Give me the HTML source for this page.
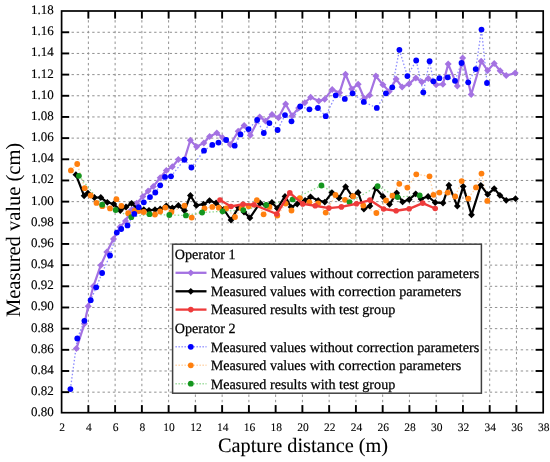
<!DOCTYPE html><html><head><meta charset="utf-8"><style>html,body{margin:0;padding:0;background:#fff;width:550px;height:462px;overflow:hidden}svg{display:block}text{font-family:"Liberation Serif",serif;fill:#000;text-rendering:geometricPrecision;stroke:#000;stroke-width:0.25px}</style></head><body>
<svg width="550" height="462" viewBox="0 0 550 462">
<rect width="550" height="462" fill="#fff"/>
<g stroke="#909090" stroke-width="1" stroke-dasharray="2.4 2.948" stroke-dashoffset="1.55"><line x1="88.36" y1="11.0" x2="88.36" y2="412.7"/><line x1="115.11" y1="11.0" x2="115.11" y2="412.7"/><line x1="141.87" y1="11.0" x2="141.87" y2="412.7"/><line x1="168.62" y1="11.0" x2="168.62" y2="412.7"/><line x1="195.38" y1="11.0" x2="195.38" y2="412.7"/><line x1="222.13" y1="11.0" x2="222.13" y2="412.7"/><line x1="248.89" y1="11.0" x2="248.89" y2="412.7"/><line x1="275.64" y1="11.0" x2="275.64" y2="412.7"/><line x1="302.40" y1="11.0" x2="302.40" y2="412.7"/><line x1="329.16" y1="11.0" x2="329.16" y2="412.7"/><line x1="355.91" y1="11.0" x2="355.91" y2="412.7"/><line x1="382.67" y1="11.0" x2="382.67" y2="412.7"/><line x1="409.42" y1="11.0" x2="409.42" y2="412.7"/><line x1="436.18" y1="11.0" x2="436.18" y2="412.7"/><line x1="462.93" y1="11.0" x2="462.93" y2="412.7"/><line x1="489.69" y1="11.0" x2="489.69" y2="412.7"/><line x1="516.44" y1="11.0" x2="516.44" y2="412.7"/></g>
<g stroke="#909090" stroke-width="1" stroke-dasharray="2.4 2.763" stroke-dashoffset="0.39"><line x1="61.6" y1="392.16" x2="543.2" y2="392.16"/><line x1="61.6" y1="370.99" x2="543.2" y2="370.99"/><line x1="61.6" y1="349.82" x2="543.2" y2="349.82"/><line x1="61.6" y1="328.65" x2="543.2" y2="328.65"/><line x1="61.6" y1="307.48" x2="543.2" y2="307.48"/><line x1="61.6" y1="286.31" x2="543.2" y2="286.31"/><line x1="61.6" y1="265.14" x2="543.2" y2="265.14"/><line x1="61.6" y1="243.97" x2="543.2" y2="243.97"/><line x1="61.6" y1="222.80" x2="543.2" y2="222.80"/><line x1="61.6" y1="201.63" x2="543.2" y2="201.63"/><line x1="61.6" y1="180.46" x2="543.2" y2="180.46"/><line x1="61.6" y1="159.29" x2="543.2" y2="159.29"/><line x1="61.6" y1="138.12" x2="543.2" y2="138.12"/><line x1="61.6" y1="116.95" x2="543.2" y2="116.95"/><line x1="61.6" y1="95.78" x2="543.2" y2="95.78"/><line x1="61.6" y1="74.61" x2="543.2" y2="74.61"/><line x1="61.6" y1="53.44" x2="543.2" y2="53.44"/><line x1="61.6" y1="32.27" x2="543.2" y2="32.27"/></g>
<polyline points="70.4,389.1 77.3,338.5 84.4,320.8 90.7,300.2 96.2,287.3 102.1,273.0 110.0,255.5 116.8,232.6 121.2,229.0 127.5,225.4 134.3,213.9 138.7,207.2 143.8,202.3 150.0,197.1 155.3,192.5 160.2,185.3 165.0,176.9 171.0,176.3 184.4,159.7 191.4,167.5 204.0,150.7 212.3,144.9 218.5,142.6 226.1,140.0 234.7,145.7 240.5,134.4 248.6,129.1 257.1,120.0 263.8,133.0 269.4,123.1 277.6,130.0 285.0,115.1 291.5,121.3 300.2,106.5 309.4,109.3 317.9,108.0 325.7,116.2 335.7,95.3 344.8,98.9 352.6,93.3 363.8,101.9 376.8,107.9 385.9,93.3 392.3,87.3 399.4,49.8 407.4,76.1 416.2,60.5 423.3,92.3 429.6,61.2 433.4,81.3 439.4,78.2 447.7,77.3 455.0,80.8 461.5,63.0 468.2,82.3 475.7,69.1 481.5,29.6 487.0,83.0" fill="none" stroke="#8c8cff" stroke-width="1.3" stroke-dasharray="1.5 2"/>
<polyline points="70.9,170.4 77.2,164.0 84.7,188.2 90.7,195.5 96.5,202.9 102.3,206.2 110.0,208.4 116.4,199.2 121.4,205.9 128.2,213.2 134.7,211.0 138.8,211.1 143.8,212.0 154.9,214.5 160.2,211.5 165.3,207.6 171.4,212.0 184.5,205.7 191.7,217.6 204.5,208.3 212.3,206.9 218.8,207.7 226.2,208.3 235.0,217.0 241.5,208.3 248.7,206.2 256.8,200.2 263.6,214.3 269.5,206.9 277.3,215.5 285.6,203.6 291.5,210.5 299.8,198.1 309.3,202.1 318.2,203.3 325.7,212.6 335.5,195.0 345.0,199.8 353.1,196.2 363.3,205.5 376.4,213.0 386.0,200.5 392.5,195.7 399.3,183.8 407.4,187.6 416.3,174.3 429.5,176.3 433.5,194.8 439.4,192.6 447.7,192.6 455.2,196.5 461.7,181.1 468.3,198.6 476.0,187.4 481.5,173.6 487.3,200.9" fill="none" stroke="#ffd0a0" stroke-width="1.3" stroke-dasharray="1.5 2"/>
<polyline points="78.9,175.8 102.2,204.7 115.7,210.0 131.3,217.2 149.5,214.2 169.3,215.0 185.9,215.4 202.1,212.5 222.6,211.3 243.3,210.1 266.2,205.0 292.7,199.4 321.4,185.5 349.5,202.1 377.6,186.2 397.6,197.1 419.7,195.4" fill="none" stroke="#90d890" stroke-width="1.3" stroke-dasharray="1.5 2"/>
<polyline points="76.4,348.6 84.4,323.8 88.2,306.3 93.4,286.3 100.8,265.2 106.8,252.1 113.5,239.0 120.0,227.0 125.5,221.1 131.4,210.0 136.7,203.2 142.9,196.4 148.1,191.0 153.3,186.4 160.2,177.7 166.3,170.4 172.3,166.8 178.4,159.5 184.4,159.6 190.3,140.3 196.6,146.8 203.8,142.9 209.6,136.4 216.8,133.1 222.6,137.7 230.4,144.8 238.2,131.2 244.1,125.5 250.3,135.2 259.7,117.0 265.5,120.9 272.0,114.4 278.5,117.7 285.6,104.0 292.1,115.7 298.6,107.9 304.8,102.8 310.6,97.2 318.8,101.1 324.7,99.2 332.2,89.4 339.6,92.7 345.5,74.2 351.7,89.0 358.2,84.2 364.3,98.5 369.5,95.3 375.9,76.1 382.9,84.7 389.2,91.5 396.1,79.1 402.1,87.0 408.9,83.9 415.8,77.9 421.8,82.1 428.3,78.6 436.1,84.8 442.9,84.2 448.2,64.1 457.3,86.1 462.6,58.0 471.2,94.4 481.2,61.2 487.6,70.5 494.2,63.6 500.1,70.8 506.2,75.6 515.2,73.0" fill="none" stroke="#a472e2" stroke-width="2.2" stroke-linejoin="round"/>
<path d="M76.4 345.1L79.9 348.6L76.4 352.1L72.9 348.6Z" fill="#a472e2"/><path d="M84.4 320.3L87.9 323.8L84.4 327.3L80.9 323.8Z" fill="#a472e2"/><path d="M88.2 302.8L91.7 306.3L88.2 309.8L84.7 306.3Z" fill="#a472e2"/><path d="M93.4 282.8L96.9 286.3L93.4 289.8L89.9 286.3Z" fill="#a472e2"/><path d="M100.8 261.7L104.3 265.2L100.8 268.7L97.3 265.2Z" fill="#a472e2"/><path d="M106.8 248.6L110.3 252.1L106.8 255.6L103.3 252.1Z" fill="#a472e2"/><path d="M113.5 235.5L117.0 239.0L113.5 242.5L110.0 239.0Z" fill="#a472e2"/><path d="M120.0 223.5L123.5 227.0L120.0 230.5L116.5 227.0Z" fill="#a472e2"/><path d="M125.5 217.6L129.0 221.1L125.5 224.6L122.0 221.1Z" fill="#a472e2"/><path d="M131.4 206.5L134.9 210.0L131.4 213.5L127.9 210.0Z" fill="#a472e2"/><path d="M136.7 199.7L140.2 203.2L136.7 206.7L133.2 203.2Z" fill="#a472e2"/><path d="M142.9 192.9L146.4 196.4L142.9 199.9L139.4 196.4Z" fill="#a472e2"/><path d="M148.1 187.5L151.6 191.0L148.1 194.5L144.6 191.0Z" fill="#a472e2"/><path d="M153.3 182.9L156.8 186.4L153.3 189.9L149.8 186.4Z" fill="#a472e2"/><path d="M160.2 174.2L163.7 177.7L160.2 181.2L156.7 177.7Z" fill="#a472e2"/><path d="M166.3 166.9L169.8 170.4L166.3 173.9L162.8 170.4Z" fill="#a472e2"/><path d="M172.3 163.3L175.8 166.8L172.3 170.3L168.8 166.8Z" fill="#a472e2"/><path d="M178.4 156.0L181.9 159.5L178.4 163.0L174.9 159.5Z" fill="#a472e2"/><path d="M184.4 156.1L187.9 159.6L184.4 163.1L180.9 159.6Z" fill="#a472e2"/><path d="M190.3 136.8L193.8 140.3L190.3 143.8L186.8 140.3Z" fill="#a472e2"/><path d="M196.6 143.3L200.1 146.8L196.6 150.3L193.1 146.8Z" fill="#a472e2"/><path d="M203.8 139.4L207.3 142.9L203.8 146.4L200.3 142.9Z" fill="#a472e2"/><path d="M209.6 132.9L213.1 136.4L209.6 139.9L206.1 136.4Z" fill="#a472e2"/><path d="M216.8 129.6L220.3 133.1L216.8 136.6L213.3 133.1Z" fill="#a472e2"/><path d="M222.6 134.2L226.1 137.7L222.6 141.2L219.1 137.7Z" fill="#a472e2"/><path d="M230.4 141.3L233.9 144.8L230.4 148.3L226.9 144.8Z" fill="#a472e2"/><path d="M238.2 127.7L241.7 131.2L238.2 134.7L234.7 131.2Z" fill="#a472e2"/><path d="M244.1 122.0L247.6 125.5L244.1 129.0L240.6 125.5Z" fill="#a472e2"/><path d="M250.3 131.7L253.8 135.2L250.3 138.7L246.8 135.2Z" fill="#a472e2"/><path d="M259.7 113.5L263.2 117.0L259.7 120.5L256.2 117.0Z" fill="#a472e2"/><path d="M265.5 117.4L269.0 120.9L265.5 124.4L262.0 120.9Z" fill="#a472e2"/><path d="M272.0 110.9L275.5 114.4L272.0 117.9L268.5 114.4Z" fill="#a472e2"/><path d="M278.5 114.2L282.0 117.7L278.5 121.2L275.0 117.7Z" fill="#a472e2"/><path d="M285.6 100.5L289.1 104.0L285.6 107.5L282.1 104.0Z" fill="#a472e2"/><path d="M292.1 112.2L295.6 115.7L292.1 119.2L288.6 115.7Z" fill="#a472e2"/><path d="M298.6 104.4L302.1 107.9L298.6 111.4L295.1 107.9Z" fill="#a472e2"/><path d="M304.8 99.3L308.3 102.8L304.8 106.3L301.3 102.8Z" fill="#a472e2"/><path d="M310.6 93.7L314.1 97.2L310.6 100.7L307.1 97.2Z" fill="#a472e2"/><path d="M318.8 97.6L322.3 101.1L318.8 104.6L315.3 101.1Z" fill="#a472e2"/><path d="M324.7 95.7L328.2 99.2L324.7 102.7L321.2 99.2Z" fill="#a472e2"/><path d="M332.2 85.9L335.7 89.4L332.2 92.9L328.7 89.4Z" fill="#a472e2"/><path d="M339.6 89.2L343.1 92.7L339.6 96.2L336.1 92.7Z" fill="#a472e2"/><path d="M345.5 70.7L349.0 74.2L345.5 77.7L342.0 74.2Z" fill="#a472e2"/><path d="M351.7 85.5L355.2 89.0L351.7 92.5L348.2 89.0Z" fill="#a472e2"/><path d="M358.2 80.7L361.7 84.2L358.2 87.7L354.7 84.2Z" fill="#a472e2"/><path d="M364.3 95.0L367.8 98.5L364.3 102.0L360.8 98.5Z" fill="#a472e2"/><path d="M369.5 91.8L373.0 95.3L369.5 98.8L366.0 95.3Z" fill="#a472e2"/><path d="M375.9 72.6L379.4 76.1L375.9 79.6L372.4 76.1Z" fill="#a472e2"/><path d="M382.9 81.2L386.4 84.7L382.9 88.2L379.4 84.7Z" fill="#a472e2"/><path d="M389.2 88.0L392.7 91.5L389.2 95.0L385.7 91.5Z" fill="#a472e2"/><path d="M396.1 75.6L399.6 79.1L396.1 82.6L392.6 79.1Z" fill="#a472e2"/><path d="M402.1 83.5L405.6 87.0L402.1 90.5L398.6 87.0Z" fill="#a472e2"/><path d="M408.9 80.4L412.4 83.9L408.9 87.4L405.4 83.9Z" fill="#a472e2"/><path d="M415.8 74.4L419.3 77.9L415.8 81.4L412.3 77.9Z" fill="#a472e2"/><path d="M421.8 78.6L425.3 82.1L421.8 85.6L418.3 82.1Z" fill="#a472e2"/><path d="M428.3 75.1L431.8 78.6L428.3 82.1L424.8 78.6Z" fill="#a472e2"/><path d="M436.1 81.3L439.6 84.8L436.1 88.3L432.6 84.8Z" fill="#a472e2"/><path d="M442.9 80.7L446.4 84.2L442.9 87.7L439.4 84.2Z" fill="#a472e2"/><path d="M448.2 60.6L451.7 64.1L448.2 67.6L444.7 64.1Z" fill="#a472e2"/><path d="M457.3 82.6L460.8 86.1L457.3 89.6L453.8 86.1Z" fill="#a472e2"/><path d="M462.6 54.5L466.1 58.0L462.6 61.5L459.1 58.0Z" fill="#a472e2"/><path d="M471.2 90.9L474.7 94.4L471.2 97.9L467.7 94.4Z" fill="#a472e2"/><path d="M481.2 57.7L484.7 61.2L481.2 64.7L477.7 61.2Z" fill="#a472e2"/><path d="M487.6 67.0L491.1 70.5L487.6 74.0L484.1 70.5Z" fill="#a472e2"/><path d="M494.2 60.1L497.7 63.6L494.2 67.1L490.7 63.6Z" fill="#a472e2"/><path d="M500.1 67.3L503.6 70.8L500.1 74.3L496.6 70.8Z" fill="#a472e2"/><path d="M506.2 72.1L509.7 75.6L506.2 79.1L502.7 75.6Z" fill="#a472e2"/><path d="M515.2 69.5L518.7 73.0L515.2 76.5L511.7 73.0Z" fill="#a472e2"/>
<polyline points="75.9,174.7 84.1,195.8 87.9,193.1 94.4,197.5 100.8,197.5 107.3,202.3 113.8,204.0 120.3,210.5 126.0,207.0 131.6,203.3 137.7,208.9 143.8,209.7 149.0,210.3 155.0,209.7 160.2,208.9 166.3,205.8 172.3,208.0 178.4,205.4 184.5,210.6 190.4,195.5 196.4,205.4 203.6,204.2 209.5,200.6 216.1,203.0 223.8,209.5 231.0,220.0 238.5,207.4 244.0,212.0 249.9,217.9 260.0,203.0 266.0,205.4 271.9,202.4 277.3,208.3 285.0,196.4 291.0,207.1 297.2,204.0 305.1,200.4 310.5,196.8 318.2,200.4 324.8,202.1 331.9,192.6 339.0,198.0 345.6,186.7 352.1,196.2 358.1,192.5 363.9,209.0 369.9,206.1 375.8,188.2 383.0,196.5 389.5,204.3 396.7,193.0 402.6,201.9 409.2,199.5 415.7,193.8 421.0,198.9 428.1,196.5 435.2,202.5 443.0,203.1 448.9,185.2 457.3,206.1 463.2,186.4 471.5,214.8 480.8,185.3 487.7,194.4 494.2,188.6 499.9,195.3 506.2,200.3 515.5,198.7" fill="none" stroke="#000" stroke-width="2.2" stroke-linejoin="round"/>
<path d="M75.9 171.3L79.3 174.7L75.9 178.1L72.5 174.7Z" fill="#000"/><path d="M84.1 192.4L87.5 195.8L84.1 199.2L80.7 195.8Z" fill="#000"/><path d="M87.9 189.7L91.3 193.1L87.9 196.5L84.5 193.1Z" fill="#000"/><path d="M94.4 194.1L97.8 197.5L94.4 200.9L91.0 197.5Z" fill="#000"/><path d="M100.8 194.1L104.2 197.5L100.8 200.9L97.4 197.5Z" fill="#000"/><path d="M107.3 198.9L110.7 202.3L107.3 205.7L103.9 202.3Z" fill="#000"/><path d="M113.8 200.6L117.2 204.0L113.8 207.4L110.4 204.0Z" fill="#000"/><path d="M120.3 207.1L123.7 210.5L120.3 213.9L116.9 210.5Z" fill="#000"/><path d="M126.0 203.6L129.4 207.0L126.0 210.4L122.6 207.0Z" fill="#000"/><path d="M131.6 199.9L135.0 203.3L131.6 206.7L128.2 203.3Z" fill="#000"/><path d="M137.7 205.5L141.1 208.9L137.7 212.3L134.3 208.9Z" fill="#000"/><path d="M143.8 206.3L147.2 209.7L143.8 213.1L140.4 209.7Z" fill="#000"/><path d="M149.0 206.9L152.4 210.3L149.0 213.7L145.6 210.3Z" fill="#000"/><path d="M155.0 206.3L158.4 209.7L155.0 213.1L151.6 209.7Z" fill="#000"/><path d="M160.2 205.5L163.6 208.9L160.2 212.3L156.8 208.9Z" fill="#000"/><path d="M166.3 202.4L169.7 205.8L166.3 209.2L162.9 205.8Z" fill="#000"/><path d="M172.3 204.6L175.7 208.0L172.3 211.4L168.9 208.0Z" fill="#000"/><path d="M178.4 202.0L181.8 205.4L178.4 208.8L175.0 205.4Z" fill="#000"/><path d="M184.5 207.2L187.9 210.6L184.5 214.0L181.1 210.6Z" fill="#000"/><path d="M190.4 192.1L193.8 195.5L190.4 198.9L187.0 195.5Z" fill="#000"/><path d="M196.4 202.0L199.8 205.4L196.4 208.8L193.0 205.4Z" fill="#000"/><path d="M203.6 200.8L207.0 204.2L203.6 207.6L200.2 204.2Z" fill="#000"/><path d="M209.5 197.2L212.9 200.6L209.5 204.0L206.1 200.6Z" fill="#000"/><path d="M216.1 199.6L219.5 203.0L216.1 206.4L212.7 203.0Z" fill="#000"/><path d="M223.8 206.1L227.2 209.5L223.8 212.9L220.4 209.5Z" fill="#000"/><path d="M231.0 216.6L234.4 220.0L231.0 223.4L227.6 220.0Z" fill="#000"/><path d="M238.5 204.0L241.9 207.4L238.5 210.8L235.1 207.4Z" fill="#000"/><path d="M244.0 208.6L247.4 212.0L244.0 215.4L240.6 212.0Z" fill="#000"/><path d="M249.9 214.5L253.3 217.9L249.9 221.3L246.5 217.9Z" fill="#000"/><path d="M260.0 199.6L263.4 203.0L260.0 206.4L256.6 203.0Z" fill="#000"/><path d="M266.0 202.0L269.4 205.4L266.0 208.8L262.6 205.4Z" fill="#000"/><path d="M271.9 199.0L275.3 202.4L271.9 205.8L268.5 202.4Z" fill="#000"/><path d="M277.3 204.9L280.7 208.3L277.3 211.7L273.9 208.3Z" fill="#000"/><path d="M285.0 193.0L288.4 196.4L285.0 199.8L281.6 196.4Z" fill="#000"/><path d="M291.0 203.7L294.4 207.1L291.0 210.5L287.6 207.1Z" fill="#000"/><path d="M297.2 200.6L300.6 204.0L297.2 207.4L293.8 204.0Z" fill="#000"/><path d="M305.1 197.0L308.5 200.4L305.1 203.8L301.7 200.4Z" fill="#000"/><path d="M310.5 193.4L313.9 196.8L310.5 200.2L307.1 196.8Z" fill="#000"/><path d="M318.2 197.0L321.6 200.4L318.2 203.8L314.8 200.4Z" fill="#000"/><path d="M324.8 198.7L328.2 202.1L324.8 205.5L321.4 202.1Z" fill="#000"/><path d="M331.9 189.2L335.3 192.6L331.9 196.0L328.5 192.6Z" fill="#000"/><path d="M339.0 194.6L342.4 198.0L339.0 201.4L335.6 198.0Z" fill="#000"/><path d="M345.6 183.3L349.0 186.7L345.6 190.1L342.2 186.7Z" fill="#000"/><path d="M352.1 192.8L355.5 196.2L352.1 199.6L348.7 196.2Z" fill="#000"/><path d="M358.1 189.1L361.5 192.5L358.1 195.9L354.7 192.5Z" fill="#000"/><path d="M363.9 205.6L367.3 209.0L363.9 212.4L360.5 209.0Z" fill="#000"/><path d="M369.9 202.7L373.3 206.1L369.9 209.5L366.5 206.1Z" fill="#000"/><path d="M375.8 184.8L379.2 188.2L375.8 191.6L372.4 188.2Z" fill="#000"/><path d="M383.0 193.1L386.4 196.5L383.0 199.9L379.6 196.5Z" fill="#000"/><path d="M389.5 200.9L392.9 204.3L389.5 207.7L386.1 204.3Z" fill="#000"/><path d="M396.7 189.6L400.1 193.0L396.7 196.4L393.3 193.0Z" fill="#000"/><path d="M402.6 198.5L406.0 201.9L402.6 205.3L399.2 201.9Z" fill="#000"/><path d="M409.2 196.1L412.6 199.5L409.2 202.9L405.8 199.5Z" fill="#000"/><path d="M415.7 190.4L419.1 193.8L415.7 197.2L412.3 193.8Z" fill="#000"/><path d="M421.0 195.5L424.4 198.9L421.0 202.3L417.6 198.9Z" fill="#000"/><path d="M428.1 193.1L431.5 196.5L428.1 199.9L424.7 196.5Z" fill="#000"/><path d="M435.2 199.1L438.6 202.5L435.2 205.9L431.8 202.5Z" fill="#000"/><path d="M443.0 199.7L446.4 203.1L443.0 206.5L439.6 203.1Z" fill="#000"/><path d="M448.9 181.8L452.3 185.2L448.9 188.6L445.5 185.2Z" fill="#000"/><path d="M457.3 202.7L460.7 206.1L457.3 209.5L453.9 206.1Z" fill="#000"/><path d="M463.2 183.0L466.6 186.4L463.2 189.8L459.8 186.4Z" fill="#000"/><path d="M471.5 211.4L474.9 214.8L471.5 218.2L468.1 214.8Z" fill="#000"/><path d="M480.8 181.9L484.2 185.3L480.8 188.7L477.4 185.3Z" fill="#000"/><path d="M487.7 191.0L491.1 194.4L487.7 197.8L484.3 194.4Z" fill="#000"/><path d="M494.2 185.2L497.6 188.6L494.2 192.0L490.8 188.6Z" fill="#000"/><path d="M499.9 191.9L503.3 195.3L499.9 198.7L496.5 195.3Z" fill="#000"/><path d="M506.2 196.9L509.6 200.3L506.2 203.7L502.8 200.3Z" fill="#000"/><path d="M515.5 195.3L518.9 198.7L515.5 202.1L512.1 198.7Z" fill="#000"/>
<circle cx="70.9" cy="170.4" r="2.9" fill="#ff7f0e"/><circle cx="77.2" cy="164.0" r="2.9" fill="#ff7f0e"/><circle cx="84.7" cy="188.2" r="2.9" fill="#ff7f0e"/><circle cx="90.7" cy="195.5" r="2.9" fill="#ff7f0e"/><circle cx="96.5" cy="202.9" r="2.9" fill="#ff7f0e"/><circle cx="102.3" cy="206.2" r="2.9" fill="#ff7f0e"/><circle cx="110.0" cy="208.4" r="2.9" fill="#ff7f0e"/><circle cx="116.4" cy="199.2" r="2.9" fill="#ff7f0e"/><circle cx="121.4" cy="205.9" r="2.9" fill="#ff7f0e"/><circle cx="128.2" cy="213.2" r="2.9" fill="#ff7f0e"/><circle cx="134.7" cy="211.0" r="2.9" fill="#ff7f0e"/><circle cx="138.8" cy="211.1" r="2.9" fill="#ff7f0e"/><circle cx="143.8" cy="212.0" r="2.9" fill="#ff7f0e"/><circle cx="154.9" cy="214.5" r="2.9" fill="#ff7f0e"/><circle cx="160.2" cy="211.5" r="2.9" fill="#ff7f0e"/><circle cx="165.3" cy="207.6" r="2.9" fill="#ff7f0e"/><circle cx="171.4" cy="212.0" r="2.9" fill="#ff7f0e"/><circle cx="184.5" cy="205.7" r="2.9" fill="#ff7f0e"/><circle cx="191.7" cy="217.6" r="2.9" fill="#ff7f0e"/><circle cx="204.5" cy="208.3" r="2.9" fill="#ff7f0e"/><circle cx="212.3" cy="206.9" r="2.9" fill="#ff7f0e"/><circle cx="218.8" cy="207.7" r="2.9" fill="#ff7f0e"/><circle cx="226.2" cy="208.3" r="2.9" fill="#ff7f0e"/><circle cx="235.0" cy="217.0" r="2.9" fill="#ff7f0e"/><circle cx="241.5" cy="208.3" r="2.9" fill="#ff7f0e"/><circle cx="248.7" cy="206.2" r="2.9" fill="#ff7f0e"/><circle cx="256.8" cy="200.2" r="2.9" fill="#ff7f0e"/><circle cx="263.6" cy="214.3" r="2.9" fill="#ff7f0e"/><circle cx="269.5" cy="206.9" r="2.9" fill="#ff7f0e"/><circle cx="277.3" cy="215.5" r="2.9" fill="#ff7f0e"/><circle cx="285.6" cy="203.6" r="2.9" fill="#ff7f0e"/><circle cx="291.5" cy="210.5" r="2.9" fill="#ff7f0e"/><circle cx="299.8" cy="198.1" r="2.9" fill="#ff7f0e"/><circle cx="309.3" cy="202.1" r="2.9" fill="#ff7f0e"/><circle cx="318.2" cy="203.3" r="2.9" fill="#ff7f0e"/><circle cx="325.7" cy="212.6" r="2.9" fill="#ff7f0e"/><circle cx="335.5" cy="195.0" r="2.9" fill="#ff7f0e"/><circle cx="345.0" cy="199.8" r="2.9" fill="#ff7f0e"/><circle cx="353.1" cy="196.2" r="2.9" fill="#ff7f0e"/><circle cx="363.3" cy="205.5" r="2.9" fill="#ff7f0e"/><circle cx="376.4" cy="213.0" r="2.9" fill="#ff7f0e"/><circle cx="386.0" cy="200.5" r="2.9" fill="#ff7f0e"/><circle cx="392.5" cy="195.7" r="2.9" fill="#ff7f0e"/><circle cx="399.3" cy="183.8" r="2.9" fill="#ff7f0e"/><circle cx="407.4" cy="187.6" r="2.9" fill="#ff7f0e"/><circle cx="416.3" cy="174.3" r="2.9" fill="#ff7f0e"/><circle cx="429.5" cy="176.3" r="2.9" fill="#ff7f0e"/><circle cx="433.5" cy="194.8" r="2.9" fill="#ff7f0e"/><circle cx="439.4" cy="192.6" r="2.9" fill="#ff7f0e"/><circle cx="447.7" cy="192.6" r="2.9" fill="#ff7f0e"/><circle cx="455.2" cy="196.5" r="2.9" fill="#ff7f0e"/><circle cx="461.7" cy="181.1" r="2.9" fill="#ff7f0e"/><circle cx="468.3" cy="198.6" r="2.9" fill="#ff7f0e"/><circle cx="476.0" cy="187.4" r="2.9" fill="#ff7f0e"/><circle cx="481.5" cy="173.6" r="2.9" fill="#ff7f0e"/><circle cx="487.3" cy="200.9" r="2.9" fill="#ff7f0e"/>
<circle cx="78.9" cy="175.8" r="2.9" fill="#14961e"/><circle cx="102.2" cy="204.7" r="2.9" fill="#14961e"/><circle cx="115.7" cy="210.0" r="2.9" fill="#14961e"/><circle cx="131.3" cy="217.2" r="2.9" fill="#14961e"/><circle cx="149.5" cy="214.2" r="2.9" fill="#14961e"/><circle cx="169.3" cy="215.0" r="2.9" fill="#14961e"/><circle cx="185.9" cy="215.4" r="2.9" fill="#14961e"/><circle cx="202.1" cy="212.5" r="2.9" fill="#14961e"/><circle cx="222.6" cy="211.3" r="2.9" fill="#14961e"/><circle cx="243.3" cy="210.1" r="2.9" fill="#14961e"/><circle cx="266.2" cy="205.0" r="2.9" fill="#14961e"/><circle cx="292.7" cy="199.4" r="2.9" fill="#14961e"/><circle cx="321.4" cy="185.5" r="2.9" fill="#14961e"/><circle cx="349.5" cy="202.1" r="2.9" fill="#14961e"/><circle cx="377.6" cy="186.2" r="2.9" fill="#14961e"/><circle cx="397.6" cy="197.1" r="2.9" fill="#14961e"/><circle cx="419.7" cy="195.4" r="2.9" fill="#14961e"/>
<polyline points="220.0,200.0 231.0,206.5 243.1,204.2 254.0,204.8 276.7,214.0 289.8,192.9 302.7,203.9 315.2,205.7 328.9,208.1 341.4,206.9 356.5,203.8 369.9,200.1 383.6,209.0 396.1,210.8 409.2,208.8 422.7,203.1 435.2,208.5" fill="none" stroke="#ee3b3b" stroke-width="2.4" stroke-linejoin="round"/>
<circle cx="220.0" cy="200.0" r="2.8" fill="#ee3b3b"/><circle cx="231.0" cy="206.5" r="2.8" fill="#ee3b3b"/><circle cx="243.1" cy="204.2" r="2.8" fill="#ee3b3b"/><circle cx="254.0" cy="204.8" r="2.8" fill="#ee3b3b"/><circle cx="276.7" cy="214.0" r="2.8" fill="#ee3b3b"/><circle cx="289.8" cy="192.9" r="2.8" fill="#ee3b3b"/><circle cx="302.7" cy="203.9" r="2.8" fill="#ee3b3b"/><circle cx="315.2" cy="205.7" r="2.8" fill="#ee3b3b"/><circle cx="328.9" cy="208.1" r="2.8" fill="#ee3b3b"/><circle cx="341.4" cy="206.9" r="2.8" fill="#ee3b3b"/><circle cx="356.5" cy="203.8" r="2.8" fill="#ee3b3b"/><circle cx="369.9" cy="200.1" r="2.8" fill="#ee3b3b"/><circle cx="383.6" cy="209.0" r="2.8" fill="#ee3b3b"/><circle cx="396.1" cy="210.8" r="2.8" fill="#ee3b3b"/><circle cx="409.2" cy="208.8" r="2.8" fill="#ee3b3b"/><circle cx="422.7" cy="203.1" r="2.8" fill="#ee3b3b"/><circle cx="435.2" cy="208.5" r="2.8" fill="#ee3b3b"/>
<circle cx="70.4" cy="389.1" r="2.9" fill="#0000ff"/><circle cx="77.3" cy="338.5" r="2.9" fill="#0000ff"/><circle cx="84.4" cy="320.8" r="2.9" fill="#0000ff"/><circle cx="90.7" cy="300.2" r="2.9" fill="#0000ff"/><circle cx="96.2" cy="287.3" r="2.9" fill="#0000ff"/><circle cx="102.1" cy="273.0" r="2.9" fill="#0000ff"/><circle cx="110.0" cy="255.5" r="2.9" fill="#0000ff"/><circle cx="116.8" cy="232.6" r="2.9" fill="#0000ff"/><circle cx="121.2" cy="229.0" r="2.9" fill="#0000ff"/><circle cx="127.5" cy="225.4" r="2.9" fill="#0000ff"/><circle cx="134.3" cy="213.9" r="2.9" fill="#0000ff"/><circle cx="138.7" cy="207.2" r="2.9" fill="#0000ff"/><circle cx="143.8" cy="202.3" r="2.9" fill="#0000ff"/><circle cx="150.0" cy="197.1" r="2.9" fill="#0000ff"/><circle cx="155.3" cy="192.5" r="2.9" fill="#0000ff"/><circle cx="160.2" cy="185.3" r="2.9" fill="#0000ff"/><circle cx="165.0" cy="176.9" r="2.9" fill="#0000ff"/><circle cx="171.0" cy="176.3" r="2.9" fill="#0000ff"/><circle cx="184.4" cy="159.7" r="2.9" fill="#0000ff"/><circle cx="191.4" cy="167.5" r="2.9" fill="#0000ff"/><circle cx="204.0" cy="150.7" r="2.9" fill="#0000ff"/><circle cx="212.3" cy="144.9" r="2.9" fill="#0000ff"/><circle cx="218.5" cy="142.6" r="2.9" fill="#0000ff"/><circle cx="226.1" cy="140.0" r="2.9" fill="#0000ff"/><circle cx="234.7" cy="145.7" r="2.9" fill="#0000ff"/><circle cx="240.5" cy="134.4" r="2.9" fill="#0000ff"/><circle cx="248.6" cy="129.1" r="2.9" fill="#0000ff"/><circle cx="257.1" cy="120.0" r="2.9" fill="#0000ff"/><circle cx="263.8" cy="133.0" r="2.9" fill="#0000ff"/><circle cx="269.4" cy="123.1" r="2.9" fill="#0000ff"/><circle cx="277.6" cy="130.0" r="2.9" fill="#0000ff"/><circle cx="285.0" cy="115.1" r="2.9" fill="#0000ff"/><circle cx="291.5" cy="121.3" r="2.9" fill="#0000ff"/><circle cx="300.2" cy="106.5" r="2.9" fill="#0000ff"/><circle cx="309.4" cy="109.3" r="2.9" fill="#0000ff"/><circle cx="317.9" cy="108.0" r="2.9" fill="#0000ff"/><circle cx="325.7" cy="116.2" r="2.9" fill="#0000ff"/><circle cx="335.7" cy="95.3" r="2.9" fill="#0000ff"/><circle cx="344.8" cy="98.9" r="2.9" fill="#0000ff"/><circle cx="352.6" cy="93.3" r="2.9" fill="#0000ff"/><circle cx="363.8" cy="101.9" r="2.9" fill="#0000ff"/><circle cx="376.8" cy="107.9" r="2.9" fill="#0000ff"/><circle cx="385.9" cy="93.3" r="2.9" fill="#0000ff"/><circle cx="392.3" cy="87.3" r="2.9" fill="#0000ff"/><circle cx="399.4" cy="49.8" r="2.9" fill="#0000ff"/><circle cx="407.4" cy="76.1" r="2.9" fill="#0000ff"/><circle cx="416.2" cy="60.5" r="2.9" fill="#0000ff"/><circle cx="423.3" cy="92.3" r="2.9" fill="#0000ff"/><circle cx="429.6" cy="61.2" r="2.9" fill="#0000ff"/><circle cx="433.4" cy="81.3" r="2.9" fill="#0000ff"/><circle cx="439.4" cy="78.2" r="2.9" fill="#0000ff"/><circle cx="447.7" cy="77.3" r="2.9" fill="#0000ff"/><circle cx="455.0" cy="80.8" r="2.9" fill="#0000ff"/><circle cx="461.5" cy="63.0" r="2.9" fill="#0000ff"/><circle cx="468.2" cy="82.3" r="2.9" fill="#0000ff"/><circle cx="475.7" cy="69.1" r="2.9" fill="#0000ff"/><circle cx="481.5" cy="29.6" r="2.9" fill="#0000ff"/><circle cx="487.0" cy="83.0" r="2.9" fill="#0000ff"/>
<g stroke="#000" stroke-width="1.9"><line x1="88.36" y1="412.7" x2="88.36" y2="405.09999999999997"/><line x1="88.36" y1="11.0" x2="88.36" y2="18.6"/><line x1="115.11" y1="412.7" x2="115.11" y2="405.09999999999997"/><line x1="115.11" y1="11.0" x2="115.11" y2="18.6"/><line x1="141.87" y1="412.7" x2="141.87" y2="405.09999999999997"/><line x1="141.87" y1="11.0" x2="141.87" y2="18.6"/><line x1="168.62" y1="412.7" x2="168.62" y2="405.09999999999997"/><line x1="168.62" y1="11.0" x2="168.62" y2="18.6"/><line x1="195.38" y1="412.7" x2="195.38" y2="405.09999999999997"/><line x1="195.38" y1="11.0" x2="195.38" y2="18.6"/><line x1="222.13" y1="412.7" x2="222.13" y2="405.09999999999997"/><line x1="222.13" y1="11.0" x2="222.13" y2="18.6"/><line x1="248.89" y1="412.7" x2="248.89" y2="405.09999999999997"/><line x1="248.89" y1="11.0" x2="248.89" y2="18.6"/><line x1="275.64" y1="412.7" x2="275.64" y2="405.09999999999997"/><line x1="275.64" y1="11.0" x2="275.64" y2="18.6"/><line x1="302.40" y1="412.7" x2="302.40" y2="405.09999999999997"/><line x1="302.40" y1="11.0" x2="302.40" y2="18.6"/><line x1="329.16" y1="412.7" x2="329.16" y2="405.09999999999997"/><line x1="329.16" y1="11.0" x2="329.16" y2="18.6"/><line x1="355.91" y1="412.7" x2="355.91" y2="405.09999999999997"/><line x1="355.91" y1="11.0" x2="355.91" y2="18.6"/><line x1="382.67" y1="412.7" x2="382.67" y2="405.09999999999997"/><line x1="382.67" y1="11.0" x2="382.67" y2="18.6"/><line x1="409.42" y1="412.7" x2="409.42" y2="405.09999999999997"/><line x1="409.42" y1="11.0" x2="409.42" y2="18.6"/><line x1="436.18" y1="412.7" x2="436.18" y2="405.09999999999997"/><line x1="436.18" y1="11.0" x2="436.18" y2="18.6"/><line x1="462.93" y1="412.7" x2="462.93" y2="405.09999999999997"/><line x1="462.93" y1="11.0" x2="462.93" y2="18.6"/><line x1="489.69" y1="412.7" x2="489.69" y2="405.09999999999997"/><line x1="489.69" y1="11.0" x2="489.69" y2="18.6"/><line x1="516.44" y1="412.7" x2="516.44" y2="405.09999999999997"/><line x1="516.44" y1="11.0" x2="516.44" y2="18.6"/><line x1="61.6" y1="392.16" x2="69.2" y2="392.16"/><line x1="543.2" y1="392.16" x2="535.6" y2="392.16"/><line x1="61.6" y1="370.99" x2="69.2" y2="370.99"/><line x1="543.2" y1="370.99" x2="535.6" y2="370.99"/><line x1="61.6" y1="349.82" x2="69.2" y2="349.82"/><line x1="543.2" y1="349.82" x2="535.6" y2="349.82"/><line x1="61.6" y1="328.65" x2="69.2" y2="328.65"/><line x1="543.2" y1="328.65" x2="535.6" y2="328.65"/><line x1="61.6" y1="307.48" x2="69.2" y2="307.48"/><line x1="543.2" y1="307.48" x2="535.6" y2="307.48"/><line x1="61.6" y1="286.31" x2="69.2" y2="286.31"/><line x1="543.2" y1="286.31" x2="535.6" y2="286.31"/><line x1="61.6" y1="265.14" x2="69.2" y2="265.14"/><line x1="543.2" y1="265.14" x2="535.6" y2="265.14"/><line x1="61.6" y1="243.97" x2="69.2" y2="243.97"/><line x1="543.2" y1="243.97" x2="535.6" y2="243.97"/><line x1="61.6" y1="222.80" x2="69.2" y2="222.80"/><line x1="543.2" y1="222.80" x2="535.6" y2="222.80"/><line x1="61.6" y1="201.63" x2="69.2" y2="201.63"/><line x1="543.2" y1="201.63" x2="535.6" y2="201.63"/><line x1="61.6" y1="180.46" x2="69.2" y2="180.46"/><line x1="543.2" y1="180.46" x2="535.6" y2="180.46"/><line x1="61.6" y1="159.29" x2="69.2" y2="159.29"/><line x1="543.2" y1="159.29" x2="535.6" y2="159.29"/><line x1="61.6" y1="138.12" x2="69.2" y2="138.12"/><line x1="543.2" y1="138.12" x2="535.6" y2="138.12"/><line x1="61.6" y1="116.95" x2="69.2" y2="116.95"/><line x1="543.2" y1="116.95" x2="535.6" y2="116.95"/><line x1="61.6" y1="95.78" x2="69.2" y2="95.78"/><line x1="543.2" y1="95.78" x2="535.6" y2="95.78"/><line x1="61.6" y1="74.61" x2="69.2" y2="74.61"/><line x1="543.2" y1="74.61" x2="535.6" y2="74.61"/><line x1="61.6" y1="53.44" x2="69.2" y2="53.44"/><line x1="543.2" y1="53.44" x2="535.6" y2="53.44"/><line x1="61.6" y1="32.27" x2="69.2" y2="32.27"/><line x1="543.2" y1="32.27" x2="535.6" y2="32.27"/></g>
<rect x="61.6" y="11.0" width="481.60" height="401.70" fill="none" stroke="#000" stroke-width="1.7"/>
<text x="62.10" y="430.6" font-size="11.5" text-anchor="middle" style="stroke-width:0.1px">2</text><text x="88.86" y="430.6" font-size="11.5" text-anchor="middle" style="stroke-width:0.1px">4</text><text x="115.61" y="430.6" font-size="11.5" text-anchor="middle" style="stroke-width:0.1px">6</text><text x="142.37" y="430.6" font-size="11.5" text-anchor="middle" style="stroke-width:0.1px">8</text><text x="169.12" y="430.6" font-size="11.5" text-anchor="middle" style="stroke-width:0.1px">10</text><text x="195.88" y="430.6" font-size="11.5" text-anchor="middle" style="stroke-width:0.1px">12</text><text x="222.63" y="430.6" font-size="11.5" text-anchor="middle" style="stroke-width:0.1px">14</text><text x="249.39" y="430.6" font-size="11.5" text-anchor="middle" style="stroke-width:0.1px">16</text><text x="276.14" y="430.6" font-size="11.5" text-anchor="middle" style="stroke-width:0.1px">18</text><text x="302.90" y="430.6" font-size="11.5" text-anchor="middle" style="stroke-width:0.1px">20</text><text x="329.66" y="430.6" font-size="11.5" text-anchor="middle" style="stroke-width:0.1px">22</text><text x="356.41" y="430.6" font-size="11.5" text-anchor="middle" style="stroke-width:0.1px">24</text><text x="383.17" y="430.6" font-size="11.5" text-anchor="middle" style="stroke-width:0.1px">26</text><text x="409.92" y="430.6" font-size="11.5" text-anchor="middle" style="stroke-width:0.1px">28</text><text x="436.68" y="430.6" font-size="11.5" text-anchor="middle" style="stroke-width:0.1px">30</text><text x="463.43" y="430.6" font-size="11.5" text-anchor="middle" style="stroke-width:0.1px">32</text><text x="490.19" y="430.6" font-size="11.5" text-anchor="middle" style="stroke-width:0.1px">34</text><text x="516.94" y="430.6" font-size="11.5" text-anchor="middle" style="stroke-width:0.1px">36</text><text x="543.70" y="430.6" font-size="11.5" text-anchor="middle" style="stroke-width:0.1px">38</text><text x="53.7" y="416.28" font-size="13" text-anchor="end" style="stroke-width:0.15px">0.80</text><text x="53.7" y="395.11" font-size="13" text-anchor="end" style="stroke-width:0.15px">0.82</text><text x="53.7" y="373.94" font-size="13" text-anchor="end" style="stroke-width:0.15px">0.84</text><text x="53.7" y="352.77" font-size="13" text-anchor="end" style="stroke-width:0.15px">0.86</text><text x="53.7" y="331.60" font-size="13" text-anchor="end" style="stroke-width:0.15px">0.88</text><text x="53.7" y="310.43" font-size="13" text-anchor="end" style="stroke-width:0.15px">0.90</text><text x="53.7" y="289.26" font-size="13" text-anchor="end" style="stroke-width:0.15px">0.92</text><text x="53.7" y="268.09" font-size="13" text-anchor="end" style="stroke-width:0.15px">0.94</text><text x="53.7" y="246.92" font-size="13" text-anchor="end" style="stroke-width:0.15px">0.96</text><text x="53.7" y="225.75" font-size="13" text-anchor="end" style="stroke-width:0.15px">0.98</text><text x="53.7" y="204.58" font-size="13" text-anchor="end" style="stroke-width:0.15px">1.00</text><text x="53.7" y="183.41" font-size="13" text-anchor="end" style="stroke-width:0.15px">1.02</text><text x="53.7" y="162.24" font-size="13" text-anchor="end" style="stroke-width:0.15px">1.04</text><text x="53.7" y="141.07" font-size="13" text-anchor="end" style="stroke-width:0.15px">1.06</text><text x="53.7" y="119.90" font-size="13" text-anchor="end" style="stroke-width:0.15px">1.08</text><text x="53.7" y="98.73" font-size="13" text-anchor="end" style="stroke-width:0.15px">1.10</text><text x="53.7" y="77.56" font-size="13" text-anchor="end" style="stroke-width:0.15px">1.12</text><text x="53.7" y="56.39" font-size="13" text-anchor="end" style="stroke-width:0.15px">1.14</text><text x="53.7" y="35.22" font-size="13" text-anchor="end" style="stroke-width:0.15px">1.16</text><text x="53.7" y="14.05" font-size="13" text-anchor="end" style="stroke-width:0.15px">1.18</text>
<text x="218" y="451.6" font-size="20.3" style="stroke-width:0.1px">Capture distance (m)</text>
<text transform="translate(20 317) rotate(-90)" font-size="20.5" style="stroke:none">Measured value (cm)</text>
<rect x="172.6" y="244.2" width="308.8" height="149.0" fill="#fff" stroke="#404040" stroke-width="1.5"/>
<text x="174.8" y="258.7" font-size="14.15">Operator 1</text><text x="174.8" y="332.5" font-size="14.15">Operator 2</text><line x1="175.5" y1="272.8" x2="206.5" y2="272.8" stroke="#a472e2" stroke-width="2.3"/><path d="M190.8 269.4L194.2 272.8L190.8 276.2L187.4 272.8Z" fill="#a472e2"/><text x="210.7" y="277.6" font-size="14.15">Measured values without correction parameters</text><line x1="175.5" y1="291.3" x2="206.5" y2="291.3" stroke="#000" stroke-width="2.3"/><path d="M190.8 287.9L194.2 291.3L190.8 294.7L187.4 291.3Z" fill="#000"/><text x="210.7" y="296.1" font-size="14.15">Measured values with correction parameters</text><line x1="175.5" y1="309.6" x2="206.5" y2="309.6" stroke="#ee3b3b" stroke-width="2.3"/><circle cx="190.8" cy="309.6" r="2.8" fill="#ee3b3b"/><text x="210.7" y="314.4" font-size="14.15">Measured results with test group</text><line x1="175.5" y1="346.8" x2="206.5" y2="346.8" stroke="#8c8cff" stroke-width="1.5" stroke-dasharray="1.3 1.7"/><circle cx="190.8" cy="346.8" r="2.9" fill="#0000ff"/><text x="210.7" y="351.6" font-size="14.15">Measured values without correction parameters</text><line x1="175.5" y1="365.3" x2="206.5" y2="365.3" stroke="#ffd0a0" stroke-width="1.5" stroke-dasharray="1.3 1.7"/><circle cx="190.8" cy="365.3" r="2.9" fill="#ff7f0e"/><text x="210.7" y="370.1" font-size="14.15">Measured values with correction parameters</text><line x1="175.5" y1="383.7" x2="206.5" y2="383.7" stroke="#90d890" stroke-width="1.5" stroke-dasharray="1.3 1.7"/><circle cx="190.8" cy="383.7" r="2.9" fill="#14961e"/><text x="210.7" y="388.5" font-size="14.15">Measured results with test group</text>
</svg></body></html>
